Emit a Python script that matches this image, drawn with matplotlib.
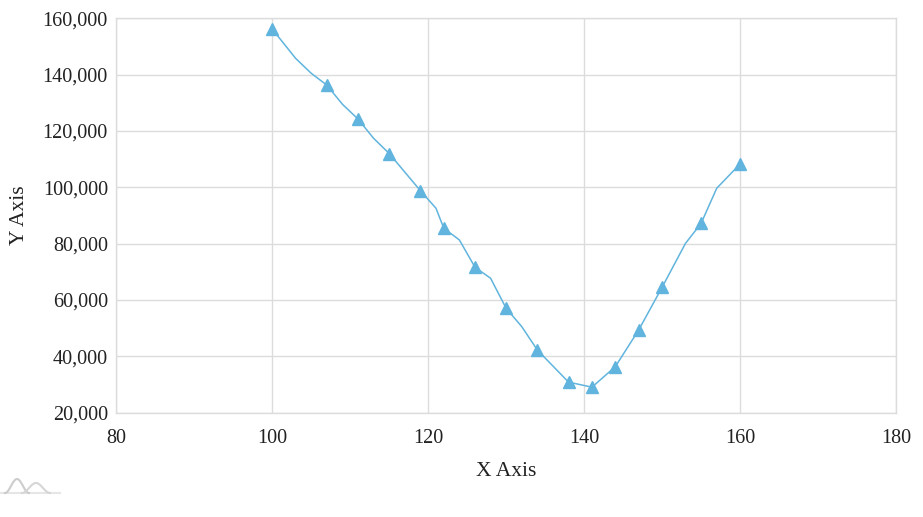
import numpy as np
import matplotlib
matplotlib.use("Agg")
import matplotlib.pyplot as plt
from matplotlib.ticker import FuncFormatter
from matplotlib.lines import Line2D

# data
x_vals = [100, 103, 105, 107, 109, 111, 113, 115, 119, 121, 122, 124, 126,
          128, 130, 132, 134, 138, 141, 144, 147, 150, 153, 155, 157, 160]
y_vals = [156200, 145800, 140500, 136300, 129500, 124250, 117400, 112000,
          98800, 92550, 85450, 81300, 71600, 67700, 57000, 50500, 42200,
          30800, 29000, 36300, 49350, 64500, 80100, 87200, 99650, 108300]
# points that carry a triangle marker
marked_x = [100, 107, 111, 115, 119, 122, 126, 130, 134, 138, 141, 144,
            147, 150, 155, 160]

x_ticks = [80, 100, 120, 140, 160, 180]
y_ticks = [20000, 40000, 60000, 80000, 100000, 120000, 140000, 160000]

LINE_COLOR = "#60b4dd"
GRID_COLOR = "#dcdcdc"
TEXT_COLOR = "#222222"

plt.rcParams["font.family"] = ["Liberation Serif", "DejaVu Serif"]

fig = plt.figure(figsize=(9.23, 5.17), dpi=100)
ax = fig.add_axes([0.126, 0.2021, 0.8448, 0.7623])

marker_idx = [x_vals.index(v) for v in marked_x]
ax.plot(x_vals, y_vals, color=LINE_COLOR, linewidth=1.1,
        marker="^", markersize=8, markevery=marker_idx,
        markerfacecolor=LINE_COLOR, markeredgecolor=LINE_COLOR, zorder=3)

ax.set_xlim(80, 180)
ax.set_ylim(20000, 160000)
ax.set_xticks(x_ticks)
ax.set_yticks(y_ticks)
ax.yaxis.set_major_formatter(FuncFormatter(lambda v, p: f"{int(v):,}"))

ax.grid(True, color=GRID_COLOR, linewidth=1)
ax.set_axisbelow(True)
for s in ax.spines.values():
    s.set_color(GRID_COLOR)
    s.set_linewidth(1)
ax.tick_params(length=0, labelsize=14.5, colors=TEXT_COLOR, pad=6)
ax.tick_params(axis="x", pad=12)

ax.set_xlabel("X Axis", fontsize=15.5, color=TEXT_COLOR, labelpad=10)
ax.set_ylabel("Y Axis", fontsize=15.5, color=TEXT_COLOR, labelpad=10)

# small grey logo in the lower left corner
fig.add_artist(Line2D([0 / 923, 60 / 923], [1 - 493 / 517, 1 - 493 / 517],
                      color="#e6e6e6", linewidth=1.5))
t = np.linspace(0, 1, 40)
lx1 = (5 + 24 * t) / 923
ly1 = 1 - (493 - 14 * np.sin(np.pi * t) ** 2) / 517
lx2 = (22 + 28 * t) / 923
ly2 = 1 - (493 - 10 * np.sin(np.pi * t) ** 2) / 517
fig.add_artist(Line2D(lx1, ly1, color="#cccccc", linewidth=1.5))
fig.add_artist(Line2D(lx2, ly2, color="#d6d6d6", linewidth=1.5))

fig.savefig("out.png", dpi=100)
